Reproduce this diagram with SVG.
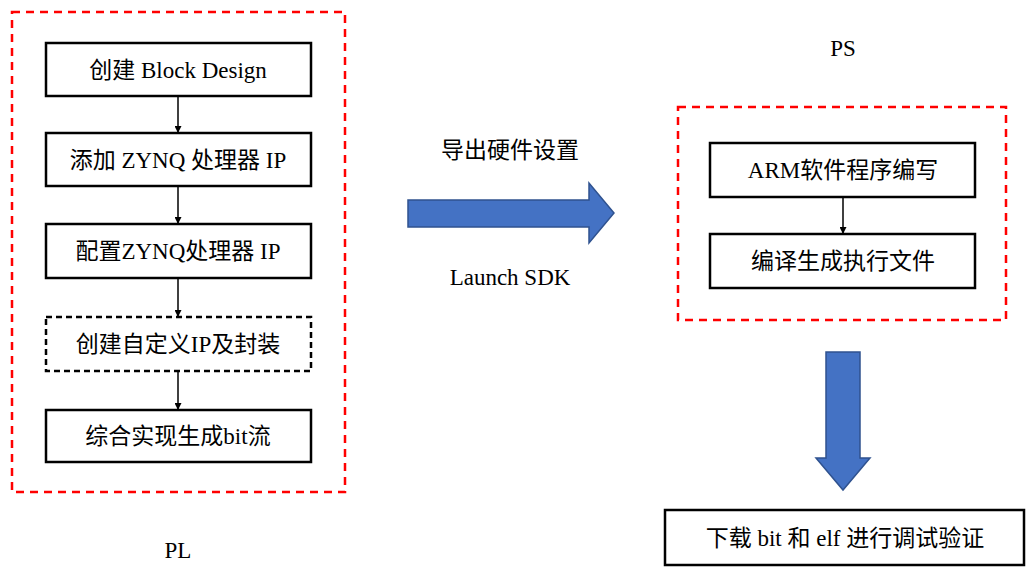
<svg xmlns="http://www.w3.org/2000/svg" width="1033" height="572" viewBox="0 0 1033 572">
<style>
.box{fill:#fff;stroke:#000;stroke-width:2.5}
.dbox{fill:#fff;stroke:#000;stroke-width:2.5;stroke-dasharray:6,4}
.red{fill:none;stroke:#f00;stroke-width:2.5;stroke-dasharray:8,6}
.t{font-family:"Times New Roman","Liberation Serif","Noto Sans CJK SC",serif;font-size:23px;text-anchor:middle;dominant-baseline:central;fill:#000}
.ln{stroke:#000;stroke-width:1.5;marker-end:url(#ah)}
.blue{fill:#4472C4;stroke:#2F528F;stroke-width:1.5}
</style>
<defs><marker id="ah" viewBox="0 0 10 10" refX="10" refY="5" markerWidth="7" markerHeight="7" orient="auto" markerUnits="userSpaceOnUse"><path d="M0,0L10,5L0,10z" fill="#000"/></marker></defs>
<g id="pl-frame"><rect class="red" x="12" y="12" width="333" height="480"/><text class="t" x="178" y="550">PL</text></g>
<g id="ps-frame"><rect class="red" x="678" y="107" width="328" height="213"/><text class="t" x="843" y="48">PS</text></g>
<g id="n1"><rect class="box" x="46" y="43" width="265" height="53"/><text class="t" x="178" y="70">创建 Block Design</text></g>
<g id="n2"><rect class="box" x="46" y="133" width="265" height="53"/><text class="t" x="178" y="160">添加 ZYNQ 处理器 IP</text></g>
<g id="n3"><rect class="box" x="46" y="224" width="265" height="54"/><text class="t" x="178" y="251">配置ZYNQ处理器 IP</text></g>
<g id="n4"><rect class="dbox" x="46" y="317" width="265" height="54"/><text class="t" x="178" y="344">创建自定义IP及封装</text></g>
<g id="n5"><rect class="box" x="46" y="410" width="265" height="52"/><text class="t" x="178" y="436">综合实现生成bit流</text></g>
<g id="n6"><rect class="box" x="710" y="143" width="265" height="54"/><text class="t" x="843" y="170">ARM软件程序编写</text></g>
<g id="n7"><rect class="box" x="710" y="234" width="265" height="54"/><text class="t" x="843" y="261">编译生成执行文件</text></g>
<g id="n8"><rect class="box" x="665" y="510" width="359" height="55"/><text class="t" x="845" y="538">下载 bit 和 elf 进行调试验证</text></g>
<g id="connectors">
<line class="ln" x1="178" y1="96" x2="178" y2="133"/>
<line class="ln" x1="178" y1="186" x2="178" y2="224"/>
<line class="ln" x1="178" y1="278" x2="178" y2="317"/>
<line class="ln" x1="178" y1="371" x2="178" y2="410"/>
<line class="ln" x1="843" y1="197" x2="843" y2="234"/>
<path class="blue" d="M408,200H589V183L614,213L589,243V227H408Z"/>
<path class="blue" d="M826,352H860V458H870L843,490L816,458H826Z"/>
<text class="t" x="510" y="150">导出硬件设置</text>
<text class="t" x="510" y="277">Launch SDK</text>
</g>
</svg>
